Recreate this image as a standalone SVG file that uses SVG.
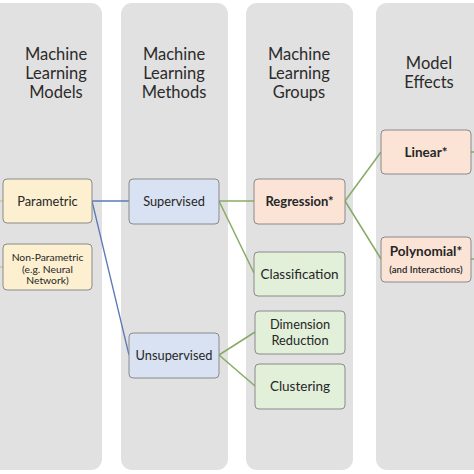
<svg xmlns="http://www.w3.org/2000/svg" width="474" height="474" viewBox="0 0 474 474">
<style>
.panel{fill:#e1e1e1}
.hdr{font-family:Lato,"Open Sans","Liberation Sans",sans-serif;font-size:16.5px;fill:#2b2b2b;text-anchor:middle}
.node rect{stroke:#8a8a8a;stroke-width:1}
.t{font-family:Lato,"Open Sans","Liberation Sans",sans-serif;font-size:12.8px;fill:#262626;text-anchor:middle}
.b{font-weight:bold}
.yel{fill:#fdf0d0}
.blu{fill:#d9e2f2}
.pch{fill:#fbe4d6}
.grn{fill:#e2efd9}
.cb{stroke:#5a78b8;stroke-width:1.3;fill:none}
.cg{stroke:#86ab66;stroke-width:1.5;fill:none}
.cy{stroke:#d9c27a;stroke-width:1.3;fill:none}
</style>
<rect width="474" height="474" fill="#ffffff"/>
<g id="panels">
<rect class="panel" x="-20" y="3" width="122" height="467" rx="11"/>
<rect class="panel" x="121" y="3" width="107" height="467" rx="11"/>
<rect class="panel" x="246" y="3" width="107" height="467" rx="11"/>
<rect class="panel" x="376" y="3" width="120" height="467" rx="11"/>
</g>
<g id="headers">
<text class="hdr" x="56" y="60">Machine</text>
<text class="hdr" x="56" y="79">Learning</text>
<text class="hdr" x="56" y="98">Models</text>
<text class="hdr" x="174" y="60">Machine</text>
<text class="hdr" x="174" y="79">Learning</text>
<text class="hdr" x="174" y="98">Methods</text>
<text class="hdr" x="299" y="60">Machine</text>
<text class="hdr" x="299" y="79">Learning</text>
<text class="hdr" x="299" y="98">Groups</text>
<text class="hdr" x="429" y="69">Model</text>
<text class="hdr" x="429" y="88">Effects</text>
</g>
<g id="connectors">
<line class="cy" x1="0" y1="201" x2="3" y2="201"/>
<line class="cy" x1="0" y1="267" x2="3" y2="267"/>
<line class="cb" x1="92" y1="201" x2="129" y2="201"/>
<line class="cb" x1="92" y1="201" x2="129" y2="355"/>
<line class="cg" x1="219" y1="201" x2="254" y2="201"/>
<line class="cg" x1="219" y1="201" x2="254" y2="273"/>
<line class="cg" x1="345" y1="201" x2="381" y2="152"/>
<line class="cg" x1="345" y1="201" x2="381" y2="259"/>
<line class="cg" x1="219" y1="355" x2="255" y2="332"/>
<line class="cg" x1="219" y1="355" x2="255" y2="386"/>
<line class="cg" x1="471" y1="152" x2="474" y2="152"/>
<line class="cg" x1="471" y1="259" x2="474" y2="259"/>
</g>
<g id="parametric" class="node">
<rect class="yel" x="3" y="179" width="89" height="44" rx="4"/>
<text class="t" x="47.5" y="205.5">Parametric</text>
</g>
<g id="non-parametric" class="node">
<rect class="yel" x="3" y="244" width="89" height="46" rx="4"/>
<text class="t" x="47.5" y="261" style="font-size:10.3px">Non-Parametric</text>
<text class="t" x="47.5" y="272.5" style="font-size:10.3px">(e.g. Neural</text>
<text class="t" x="47.5" y="284" style="font-size:10.3px">Network)</text>
</g>
<g id="supervised" class="node">
<rect class="blu" x="129" y="179" width="90" height="45" rx="4"/>
<text class="t" x="174" y="205.5">Supervised</text>
</g>
<g id="unsupervised" class="node">
<rect class="blu" x="129" y="333" width="90" height="45" rx="4"/>
<text class="t" x="174" y="359.5">Unsupervised</text>
</g>
<g id="regression" class="node">
<rect class="pch" x="254" y="179" width="91" height="45" rx="4"/>
<text class="t b" x="299.5" y="205.5" style="font-size:13px">Regression*</text>
</g>
<g id="classification" class="node">
<rect class="grn" x="254" y="252" width="91" height="44" rx="4"/>
<text class="t" x="299.5" y="278.5" style="font-size:13.5px">Classification</text>
</g>
<g id="dimension-reduction" class="node">
<rect class="grn" x="255" y="311" width="90" height="43" rx="4"/>
<text class="t" x="300" y="329">Dimension</text>
<text class="t" x="300" y="344.5">Reduction</text>
</g>
<g id="clustering" class="node">
<rect class="grn" x="255" y="364" width="90" height="45" rx="4"/>
<text class="t" x="300" y="391" style="font-size:13.5px">Clustering</text>
</g>
<g id="linear" class="node">
<rect class="pch" x="381" y="130" width="90" height="44" rx="4"/>
<text class="t b" x="426" y="156.5" style="font-size:13.5px">Linear*</text>
</g>
<g id="polynomial" class="node">
<rect class="pch" x="381" y="237" width="90" height="45" rx="4"/>
<text class="t b" x="426" y="256" style="font-size:13.5px">Polynomial*</text>
<text class="t" x="426" y="272.5" style="font-size:9.6px;font-weight:600">(and Interactions)</text>
</g>
</svg>
